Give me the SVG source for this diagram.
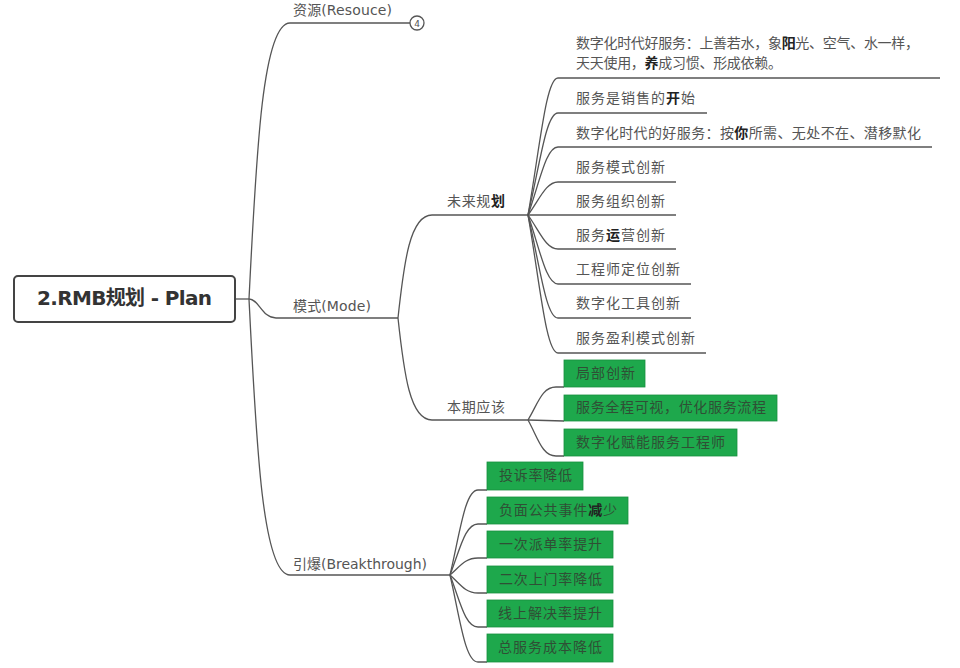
<svg xmlns="http://www.w3.org/2000/svg" width="960" height="668" viewBox="0 0 960 668">
<style>
text{font-family:"DejaVu Sans","Noto Sans CJK SC",sans-serif;font-size:14px;fill:#555}
.b{font-weight:bold;fill:#222}
.root{font-size:20px;font-weight:bold;fill:#333}
.c{fill:none;stroke:#555;stroke-width:1.3}
.g{fill:#1ea84c;stroke:#17903f;stroke-width:0.8}
.gt{fill:#2f4f35}
</style>
<rect width="960" height="668" fill="#fff"/>
<g id="connectors">
<path class="c" d="M235,299 L249,299"/>
<path class="c" d="M249,299 C256,160 262,23 290,23 L410,23"/>
<path class="c" d="M249,299 C259,299 262,318 276,318 L398,318"/>
<path class="c" d="M249,299 C256,438 262,575 290,575 L450,575"/>
<path class="c" d="M398,318 C404,262 410,215 432,215 L528,215"/>
<path class="c" d="M398,318 C404,374 410,420 432,420 L528,420"/>
<path class="c" d="M528,215 C540,146.5 546,78 558,78 L940,78"/>
<path class="c" d="M528,215 C540,164 546,113 558,113 L707,113"/>
<path class="c" d="M528,215 C540,181 546,147 558,147 L932,147"/>
<path class="c" d="M528,215 C540,198.5 546,182 558,182 L676,182"/>
<path class="c" d="M528,215 L676,215"/>
<path class="c" d="M528,215 C540,232 546,249 558,249 L676,249"/>
<path class="c" d="M528,215 C540,249.5 546,284 558,284 L691,284"/>
<path class="c" d="M528,215 C540,266.5 546,318 558,318 L691,318"/>
<path class="c" d="M528,215 C540,284 546,353 558,353 L706,353"/>
<path class="c" d="M528,420 C538,403.5 542,387 556,387 L564,387"/>
<path class="c" d="M528,420 L564,421"/>
<path class="c" d="M528,420 C538,438 542,456 556,456 L564,456"/>
<path class="c" d="M450,575 C460,532.5 465,490 478,490 L487,490"/>
<path class="c" d="M450,575 C460,549.5 465,524 478,524 L487,524"/>
<path class="c" d="M450,575 C460,566.5 465,558 478,558 L487,558"/>
<path class="c" d="M450,575 C460,584 465,593 478,593 L487,593"/>
<path class="c" d="M450,575 C460,601 465,627 478,627 L487,627"/>
<path class="c" d="M450,575 C460,618.5 465,662 478,662 L487,662"/>
</g>
<g id="root">
<rect x="14" y="276" width="221" height="46" rx="4" fill="#fff" stroke="#444" stroke-width="2"/>
<text class="root" x="37" y="305" textLength="175">2.RMB规划 - Plan</text>
</g>
<g id="resource">
<text x="293" y="15" textLength="99">资源(Resouce)</text>
<circle cx="417" cy="23" r="7" fill="#fff" stroke="#555" stroke-width="1.3"/>
<text x="417" y="26.5" style="font-size:9px" text-anchor="middle">4</text>
</g>
<g id="mode"><text x="293" y="311" textLength="78">模式(Mode)</text></g>
<g id="breakthrough"><text x="293" y="569" textLength="134">引爆(Breakthrough)</text></g>
<g id="future"><text x="447" y="206" textLength="58">未来规<tspan class="b">划</tspan></text></g>
<g id="current"><text x="447" y="412" textLength="58">本期应该</text></g>
<g id="f1">
<text x="576" y="48" textLength="343">数字化时代好服务：上善若水，象<tspan class="b">阳</tspan>光、空气、水一样，</text>
<text x="576" y="68" textLength="206">天天使用，<tspan class="b">养</tspan>成习惯、形成依赖。</text>
</g>
<g id="f2"><text x="576" y="103" textLength="119">服务是销售的<tspan class="b">开</tspan>始</text></g>
<g id="f3"><text x="576" y="138" textLength="345">数字化时代的好服务：按<tspan class="b">你</tspan>所需、无处不在、潜移默化</text></g>
<g id="f4"><text x="576" y="172" textLength="89">服务模式创新</text></g>
<g id="f5"><text x="576" y="206" textLength="89">服务组织创新</text></g>
<g id="f6"><text x="576" y="240" textLength="89">服务<tspan class="b">运</tspan>营创新</text></g>
<g id="f7"><text x="576" y="274" textLength="104">工程师定位创新</text></g>
<g id="f8"><text x="576" y="308" textLength="104">数字化工具创新</text></g>
<g id="f9"><text x="576" y="343" textLength="119">服务盈利模式创新</text></g>
<g id="c1"><rect class="g" x="564" y="360" width="81" height="27"/><text class="gt" x="576" y="378" textLength="59">局部创新</text></g>
<g id="c2"><rect class="g" x="564" y="395" width="213" height="26"/><text class="gt" x="576" y="412" textLength="190">服务全程可视，优化服务流程</text></g>
<g id="c3"><rect class="g" x="564" y="429" width="173" height="27"/><text class="gt" x="576" y="447" textLength="149">数字化赋能服务工程师</text></g>
<g id="b1"><rect class="g" x="487" y="462" width="96" height="28"/><text class="gt" x="499" y="480" textLength="73">投诉率降低</text></g>
<g id="b2"><rect class="g" x="487" y="497" width="141" height="27"/><text class="gt" x="499" y="515" textLength="118">负面公共事件<tspan class="b">减</tspan>少</text></g>
<g id="b3"><rect class="g" x="487" y="531" width="126" height="27"/><text class="gt" x="499" y="549" textLength="103">一次派单率提升</text></g>
<g id="b4"><rect class="g" x="487" y="566" width="126" height="27"/><text class="gt" x="499" y="584" textLength="103">二次上门率降低</text></g>
<g id="b5"><rect class="g" x="487" y="600" width="126" height="27"/><text class="gt" x="498" y="618" textLength="104">线上解决率提升</text></g>
<g id="b6"><rect class="g" x="487" y="634" width="126" height="28"/><text class="gt" x="498" y="652" textLength="104">总服务成本降低</text></g>
</svg>
